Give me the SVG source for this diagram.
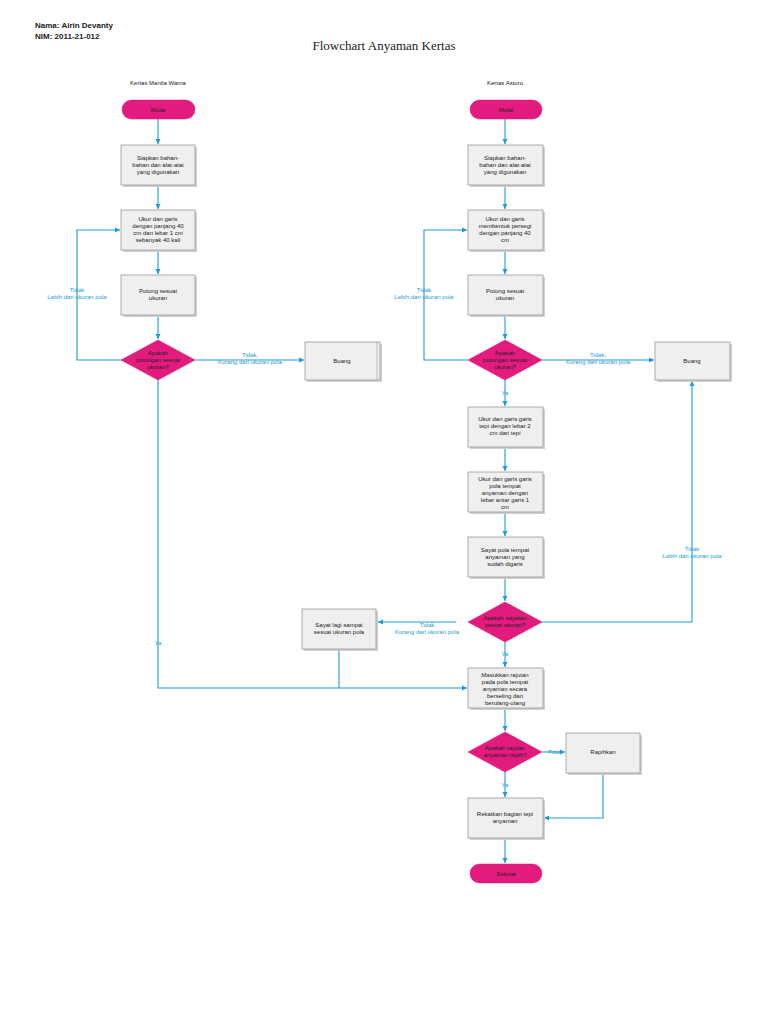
<svg xmlns="http://www.w3.org/2000/svg" width="768" height="1024" viewBox="0 0 768 1024">
<style>
text{font-family:"Liberation Sans",Arial,sans-serif;font-size:6px;fill:#222;text-anchor:middle}
.box{fill:#efefef;stroke:#999;stroke-width:0.8}
.sh{fill:#d0d0d0}
.pk{fill:#e31b7f;stroke:#d01a70;stroke-width:0.5}
.ln{fill:none;stroke:#1e9bd7;stroke-width:1.1}
.lb{fill:#1e9bd7}
.hd{text-anchor:start;font-size:8px;font-weight:bold}
</style>
<defs><marker id="a" markerWidth="6" markerHeight="6" refX="5" refY="3" orient="auto" markerUnits="userSpaceOnUse"><path d="M0,0.5L5,3L0,5.5z" fill="#1e9bd7"/></marker></defs>
<rect width="768" height="1024" fill="#fff"/>
<text class="hd" x="35" y="28">Nama: Airin Devanty</text>
<text class="hd" x="35" y="39">NIM: 2011-21-012</text>
<text x="384" y="50" style="font-family:'Liberation Serif',serif;font-size:13px">Flowchart Anyaman Kertas</text>
<text x="158" y="85">Kertas Manila Warna</text>
<text x="505" y="85">Kertas Asturo</text>
<g id="connectors">
<path class="ln" marker-end="url(#a)" d="M158,118V144"/>
<path class="ln" marker-end="url(#a)" d="M158,185V209"/>
<path class="ln" marker-end="url(#a)" d="M158,250V274"/>
<path class="ln" marker-end="url(#a)" d="M158,315V339"/>
<path class="ln" marker-end="url(#a)" d="M121,360H77V230H120"/>
<path class="ln" marker-end="url(#a)" d="M195,360H304"/>
<path class="ln" marker-end="url(#a)" d="M158,380V688H467"/>
<path class="ln" marker-end="url(#a)" d="M505,118V144"/>
<path class="ln" marker-end="url(#a)" d="M505,185V209"/>
<path class="ln" marker-end="url(#a)" d="M505,250V274"/>
<path class="ln" marker-end="url(#a)" d="M505,315V339"/>
<path class="ln" marker-end="url(#a)" d="M468,360H424V230H467"/>
<path class="ln" marker-end="url(#a)" d="M542,360H654"/>
<path class="ln" marker-end="url(#a)" d="M505,380V406"/>
<path class="ln" marker-end="url(#a)" d="M505,446V471"/>
<path class="ln" marker-end="url(#a)" d="M505,511V536"/>
<path class="ln" marker-end="url(#a)" d="M505,576V601"/>
<path class="ln" marker-end="url(#a)" d="M456,622H378"/>
<path class="ln" marker-end="url(#a)" d="M542,622H692V381"/>
<path class="ln" marker-end="url(#a)" d="M505,642V667"/>
<path class="ln" d="M339,649V688"/>
<path class="ln" marker-end="url(#a)" d="M505,707V731"/>
<path class="ln" marker-end="url(#a)" d="M542,752H565"/>
<path class="ln" marker-end="url(#a)" d="M505,772V797"/>
<path class="ln" marker-end="url(#a)" d="M603,772V818H544"/>
<path class="ln" marker-end="url(#a)" d="M505,837V863"/>
<text class="lb" x="77" y="292">Tidak</text><text class="lb" x="77" y="299">Lebih dari ukuran pola</text>
<text class="lb" x="250" y="357">Tidak,</text><text class="lb" x="250" y="364">Kurang dari ukuran pola</text>
<text class="lb" x="158" y="645">Ya</text>
<text class="lb" x="424" y="292">Tidak</text><text class="lb" x="424" y="299">Lebih dari ukuran pola</text>
<text class="lb" x="598" y="357">Tidak,</text><text class="lb" x="598" y="364">Kurang dari ukuran pola</text>
<text class="lb" x="505" y="395">Ya</text>
<text class="lb" x="692" y="551">Tidak</text><text class="lb" x="692" y="558">Lebih dari ukuran pola</text>
<text class="lb" x="427" y="627">Tidak</text><text class="lb" x="427" y="634">Kurang dari ukuran pola</text>
<text class="lb" x="505" y="656">Ya</text>
<text class="lb" x="555" y="754">Tidak</text>
<text class="lb" x="505" y="787">Ya</text>
</g>
<g id="mulai1"><rect x="122" y="100" width="73" height="19" rx="9.5" class="pk"/><text x="158" y="111.5">Mulai</text></g>
<g id="l1"><rect x="123" y="147" width="74" height="40" class="sh"/><rect x="121" y="145" width="74" height="40" class="box"/><text x="158" y="160">Siapkan bahan-</text><text x="158" y="167">bahan dan alat-alat</text><text x="158" y="174">yang digunakan</text></g>
<g id="l2"><rect x="123" y="212" width="74" height="40" class="sh"/><rect x="121" y="210" width="74" height="40" class="box"/><text x="158" y="221">Ukur dan garis</text><text x="158" y="228">dengan panjang 40</text><text x="158" y="235">cm dan lebar 1 cm</text><text x="158" y="242">sebanyak 40 kali</text></g>
<g id="l3"><rect x="123" y="277" width="74" height="40" class="sh"/><rect x="121" y="275" width="74" height="40" class="box"/><text x="158" y="293">Potong sesuai</text><text x="158" y="300">ukuran</text></g>
<g id="ld"><path d="M158,340L195,360L158,380L121,360z" class="pk"/><text x="158" y="355">Apakah</text><text x="158" y="362">potongan sesuai</text><text x="158" y="369">ukuran?</text></g>
<g id="lbuang"><rect x="307" y="344" width="75" height="38" class="sh"/><rect x="305" y="342" width="75" height="38" class="box"/><line x1="377" y1="342" x2="377" y2="380" stroke="#999" stroke-width="0.6"/><text x="342" y="363">Buang</text></g>
<g id="mulai2"><rect x="470" y="100" width="72" height="19" rx="9.5" class="pk"/><text x="506" y="111.5">Mulai</text></g>
<g id="r1"><rect x="470" y="147" width="75" height="40" class="sh"/><rect x="468" y="145" width="75" height="40" class="box"/><text x="505" y="160">Siapkan bahan-</text><text x="505" y="167">bahan dan alat-alat</text><text x="505" y="174">yang digunakan</text></g>
<g id="r2"><rect x="470" y="212" width="75" height="40" class="sh"/><rect x="468" y="210" width="75" height="40" class="box"/><text x="505" y="221">Ukur dan garis</text><text x="505" y="228">membentuk persegi</text><text x="505" y="235">dengan panjang 40</text><text x="505" y="242">cm</text></g>
<g id="r3"><rect x="470" y="277" width="75" height="40" class="sh"/><rect x="468" y="275" width="75" height="40" class="box"/><text x="505" y="293">Potong sesuai</text><text x="505" y="300">ukuran</text></g>
<g id="rd"><path d="M505,340L542,360L505,380L468,360z" class="pk"/><text x="505" y="355">Apakah</text><text x="505" y="362">potongan sesuai</text><text x="505" y="369">ukuran?</text></g>
<g id="rbuang"><rect x="657" y="344" width="75" height="38" class="sh"/><rect x="655" y="342" width="75" height="38" class="box"/><text x="692" y="363">Buang</text></g>
<g id="r4"><rect x="470" y="409" width="75" height="40" class="sh"/><rect x="468" y="407" width="75" height="40" class="box"/><text x="505" y="421">Ukur dan garis garis</text><text x="505" y="428">tepi dengan lebar 2</text><text x="505" y="435">cm dari tepi</text></g>
<g id="r5"><rect x="470" y="474" width="75" height="40" class="sh"/><rect x="468" y="472" width="75" height="40" class="box"/><text x="505" y="481">Ukur dan garis garis</text><text x="505" y="488">pola tempat</text><text x="505" y="495">anyaman dengan</text><text x="505" y="502">lebar antar garis 1</text><text x="505" y="509">cm</text></g>
<g id="r6"><rect x="470" y="539" width="75" height="40" class="sh"/><rect x="468" y="537" width="75" height="40" class="box"/><text x="505" y="552">Sayat pola tempat</text><text x="505" y="559">anyaman yang</text><text x="505" y="566">sudah digaris</text></g>
<g id="rd2"><path d="M505,602L542,622L505,642L468,622z" class="pk"/><text x="505" y="620">Apakah sayatan</text><text x="505" y="627">sesuai ukuran?</text></g>
<g id="sayatlagi"><rect x="304" y="611" width="74" height="40" class="sh"/><rect x="302" y="609" width="74" height="40" class="box"/><text x="339" y="627">Sayat lagi sampai</text><text x="339" y="634">sesuai ukuran pola</text></g>
<g id="r7"><rect x="470" y="670" width="75" height="40" class="sh"/><rect x="468" y="668" width="75" height="40" class="box"/><text x="505" y="677">Masukkan rajutan</text><text x="505" y="684">pada pola tempat</text><text x="505" y="691">anyaman secara</text><text x="505" y="698">berseling dan</text><text x="505" y="705">berulang-ulang</text></g>
<g id="rd3"><path d="M505,732L542,752L505,772L468,752z" class="pk"/><text x="505" y="750">Apakah rajutan</text><text x="505" y="757">anyaman rapih?</text></g>
<g id="rapihkan"><rect x="568" y="735" width="74" height="40" class="sh"/><rect x="566" y="733" width="74" height="40" class="box"/><text x="603" y="754">Rapihkan</text></g>
<g id="r8"><rect x="470" y="800" width="75" height="40" class="sh"/><rect x="468" y="798" width="75" height="40" class="box"/><text x="505" y="816">Rekatkan bagian tepi</text><text x="505" y="823">anyaman</text></g>
<g id="selesai"><rect x="470" y="864" width="72" height="19" rx="9.5" class="pk"/><text x="506" y="875.5">Selesai</text></g>
</svg>
